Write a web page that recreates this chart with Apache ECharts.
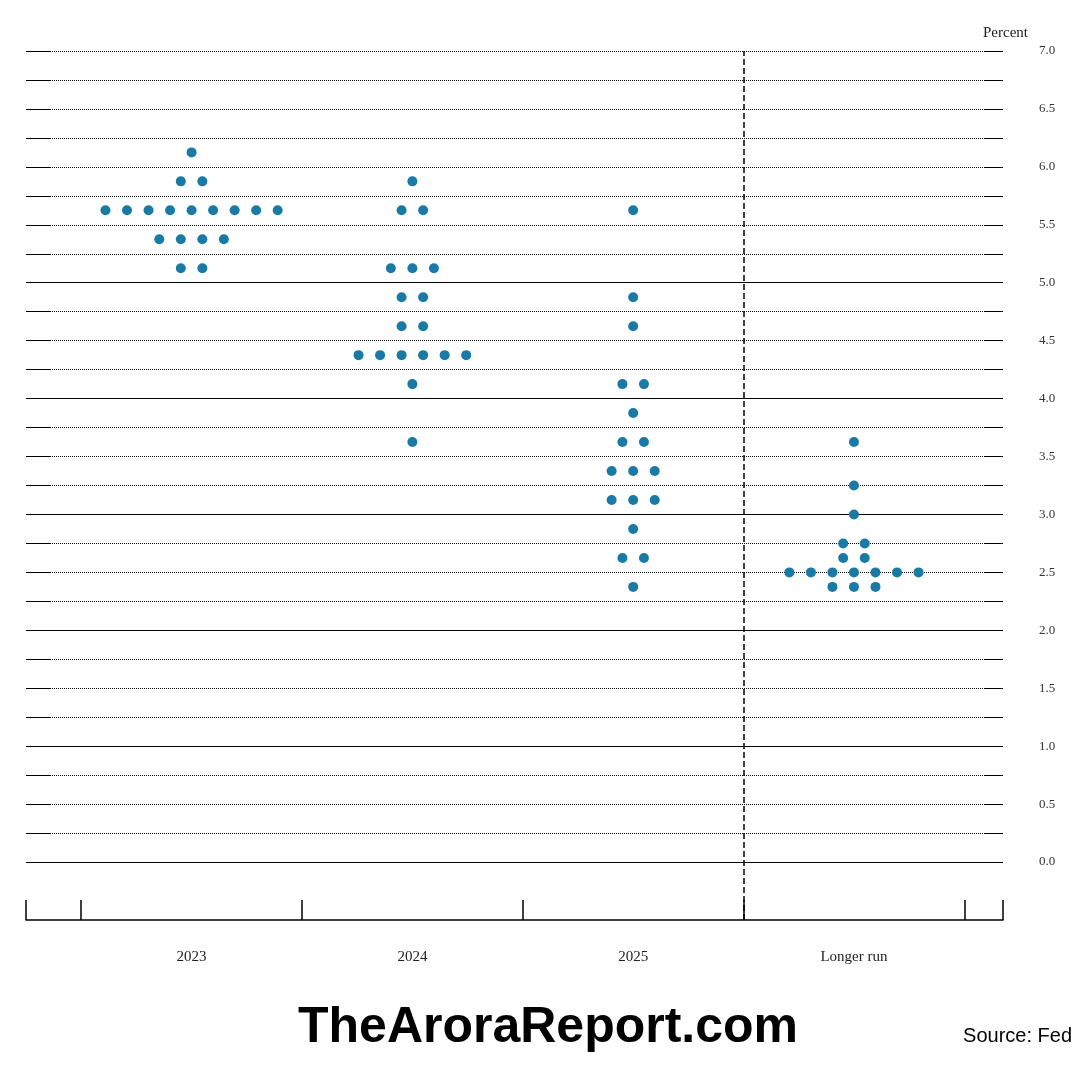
<!DOCTYPE html>
<html><head><meta charset="utf-8">
<script src="https://cdn.jsdelivr.net/npm/echarts@6/dist/echarts.min.js"></script>
<style>html,body{margin:0;padding:0;background:#fff}#c{width:1080px;height:1080px}</style>
</head><body><div id="c"></div>
<script>
const categories = ['2023','2024','2025','Longer run'];
// [rate, count of dots] per category
const dots2023 = [[6.125,1],[5.875,2],[5.625,9],[5.375,4],[5.125,2]];
const dots2024 = [[5.875,1],[5.625,2],[5.125,3],[4.875,2],[4.625,2],[4.375,6],[4.125,1],[3.625,1]];
const dots2025 = [[5.625,1],[4.875,1],[4.625,1],[4.125,2],[3.875,1],[3.625,2],[3.375,3],[3.125,3],[2.875,1],[2.625,2],[2.375,1]];
const dotsLonger = [[3.625,1],[3.25,1],[3.0,1],[2.75,2],[2.625,2],[2.5,7],[2.375,3]];
const yTicks = [0,0.5,1,1.5,2,2.5,3,3.5,4,4.5,5,5.5,6,6.5,7];
const solidLines = [0,1,2,3,4,5];

const allDots = [dots2023,dots2024,dots2025,dotsLonger];
const step = 0.0975;
const pts = [];
allDots.forEach((rows,ci)=>rows.forEach(([v,n])=>{
  for(let k=0;k<n;k++) pts.push([ci+(k-(n-1)/2)*step, v]);
}));
const quarter=[]; for(let i=0;i<=28;i++) quarter.push(i*0.25);
const serif='"Liberation Serif","DejaVu Serif",serif';
const chart = echarts.init(document.getElementById('c'));
chart.setOption({
  animation:false,
  grid:{left:26,right:77,top:51,bottom:160},
  xAxis:{type:'value',min:-0.75,max:3.675,splitLine:{show:false},
    axisLine:{show:true,onZero:false,lineStyle:{color:'#000',width:1.5}},
    axisTick:{show:true,inside:true,length:20,customValues:[-0.75,-0.5,0.5,1.5,2.5,3.5,3.675],lineStyle:{color:'#000',width:1.5}},
    axisLabel:{customValues:[0,1,2,3],formatter:v=>categories[Math.round(v)],margin:30,fontFamily:serif,fontSize:15,color:'#222'}},
  yAxis:[{type:'value',min:-0.5,max:7,interval:0.25,position:'left',splitLine:{show:false},
    axisLine:{show:false,onZero:false},axisLabel:{show:false},
    axisTick:{show:true,inside:true,length:24,customValues:quarter,lineStyle:{color:'#000'}}},
   {type:'value',min:-0.5,max:7,interval:0.25,position:'right',splitLine:{show:false},
    axisLine:{show:false,onZero:false},
    axisTick:{show:true,inside:true,length:18,customValues:quarter,lineStyle:{color:'#000'}},
    axisLabel:{customValues:yTicks,formatter:v=>v.toFixed(1),margin:36,fontFamily:serif,fontSize:13,color:'#333'}}],
  graphic:[
    {type:'text',right:52,top:26,style:{text:'Percent',font:'15px '+serif,fill:'#222'}},
    {type:'text',left:298,top:1003,style:{text:'TheAroraReport.com',font:'bold 50px "Liberation Sans",Arial,sans-serif',fill:'#000'}},
    {type:'text',right:8,top:1026,style:{text:'Source: Fed',font:'20px "Liberation Sans",Arial,sans-serif',fill:'#000'}}
  ],
  series:[
    {type:'scatter',data:[],silent:true,
     markLine:{silent:true,symbol:'none',label:{show:false},
       data:quarter.map(v=>{const s=solidLines.includes(v);return {yAxis:v,lineStyle:{color:'#000',type:s?'solid':'dotted',width:s?1.2:1}};})
         .concat([{xAxis:2.5,lineStyle:{color:'#000',type:'dashed',width:1.5}}])}},
    {type:'scatter',data:pts,symbolSize:10,itemStyle:{color:'#1a7aa6',opacity:1},z:5}
  ]
});
</script></body></html>
